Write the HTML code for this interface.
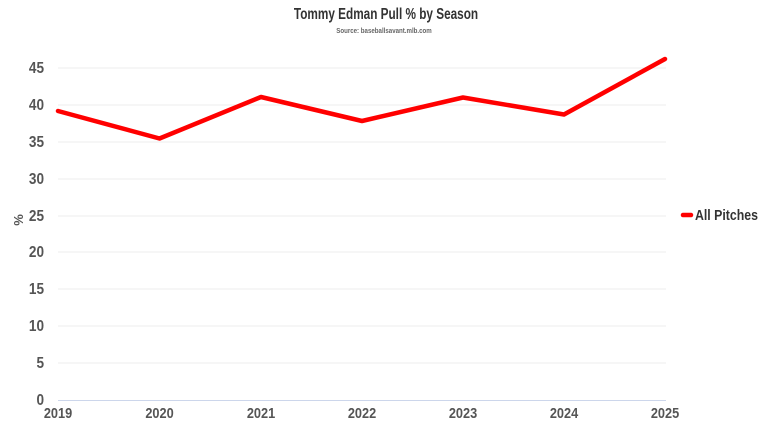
<!DOCTYPE html>
<html><head><meta charset="utf-8"><style>
html,body{margin:0;padding:0;background:#fff;}
svg{display:block;font-family:"Liberation Sans",sans-serif;}
</style></head><body>
<svg width="768" height="432" viewBox="0 0 768 432">
<g transform="translate(386,0) scale(0.76,1)">
<text x="0" y="19" text-anchor="middle" font-size="15.5" font-weight="bold" fill="#333">Tommy Edman Pull % by Season</text>
</g>
<g transform="translate(384,0) scale(0.82,1)">
<text x="0" y="33" text-anchor="middle" font-size="7.5" font-weight="bold" fill="#666">Source: baseballsavant.mlb.com</text>
</g>
<g stroke="#ececec" stroke-width="1">
<line x1="58" x2="666" y1="68" y2="68"/><line x1="58" x2="666" y1="105" y2="105"/>
<line x1="58" x2="666" y1="142" y2="142"/><line x1="58" x2="666" y1="179" y2="179"/>
<line x1="58" x2="666" y1="216" y2="216"/><line x1="58" x2="666" y1="252" y2="252"/>
<line x1="58" x2="666" y1="289" y2="289"/><line x1="58" x2="666" y1="326" y2="326"/>
<line x1="58" x2="666" y1="363" y2="363"/>
</g>
<line x1="58" x2="666" y1="400.5" y2="400.5" stroke="#ccd6eb"/>
<g font-size="16" font-weight="bold" fill="#555" text-anchor="end">
<g transform="translate(44,0) scale(0.85,1)">
<text x="0" y="73">45</text><text x="0" y="110">40</text><text x="0" y="147">35</text>
<text x="0" y="184">30</text><text x="0" y="221">25</text><text x="0" y="257">20</text>
<text x="0" y="294">15</text><text x="0" y="331">10</text><text x="0" y="368">5</text>
<text x="0" y="405">0</text>
</g></g>
<text transform="translate(23,220) rotate(-90)" font-size="13" font-weight="bold" fill="#555" text-anchor="middle">%</text>
<g font-size="15" font-weight="bold" fill="#555" text-anchor="middle">
<text transform="translate(58,418) scale(0.85,1)">2019</text>
<text transform="translate(159.5,418) scale(0.85,1)">2020</text>
<text transform="translate(261,418) scale(0.85,1)">2021</text>
<text transform="translate(362,418) scale(0.85,1)">2022</text>
<text transform="translate(463,418) scale(0.85,1)">2023</text>
<text transform="translate(564,418) scale(0.85,1)">2024</text>
<text transform="translate(665,418) scale(0.85,1)">2025</text>
</g>
<polyline fill="none" stroke="#ff0000" stroke-width="4.5" stroke-linejoin="round" stroke-linecap="round"
points="58,111 159.5,138.5 261,97 362,121 463,97.5 564,114.5 665,59"/>
<line x1="683" x2="691" y1="215" y2="215" stroke="#ff0000" stroke-width="4.5" stroke-linecap="round"/>
<text transform="translate(695,220) scale(0.85,1)" font-size="14.5" font-weight="bold" fill="#333">All Pitches</text>
</svg>
</body></html>
